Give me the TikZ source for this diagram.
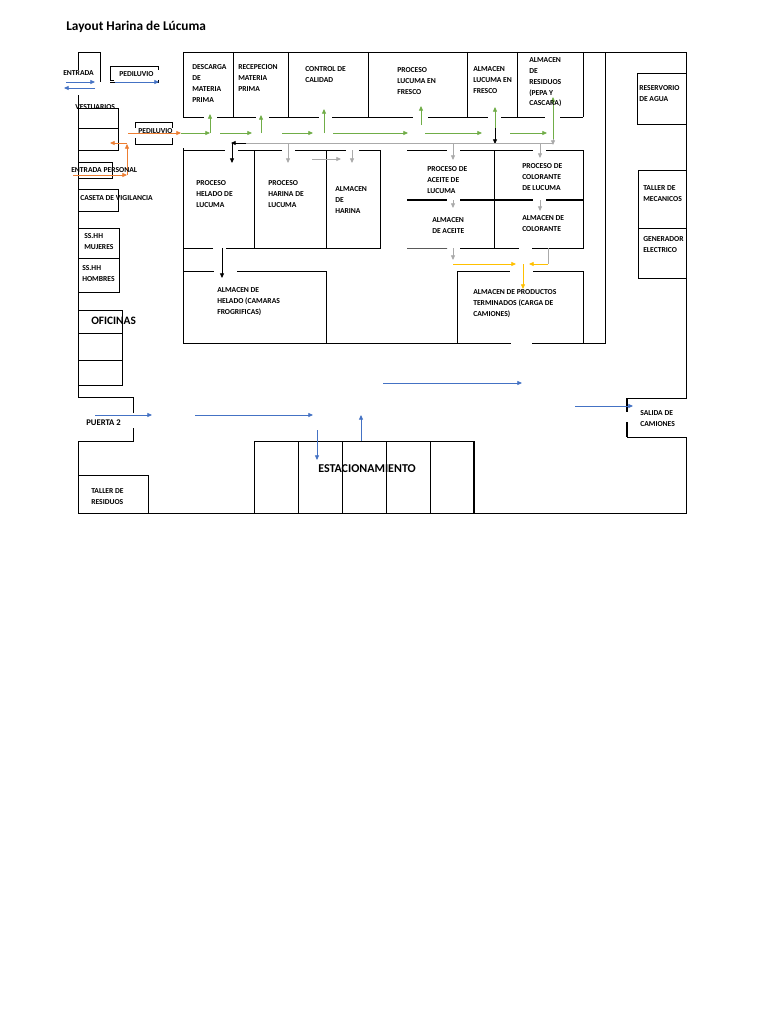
\documentclass[tikz,border=0pt]{standalone}
\usepackage{fontspec}
\setmainfont{Carlito}
\usetikzlibrary{arrows.meta}
\definecolor{gA}{RGB}{112,173,71}
\definecolor{bA}{RGB}{68,114,196}
\definecolor{oA}{RGB}{237,125,49}
\definecolor{grA}{RGB}{170,170,170}
\definecolor{yA}{RGB}{255,192,0}
\begin{document}
\begin{tikzpicture}[x=0.75pt,y=-0.75pt,
  wall/.style={line width=0.65pt,black},
  lbl/.style={anchor=north west,align=left,inner sep=0pt,font=\fontsize{5.7}{8.2}\selectfont\bfseries},
  fl/.style={line width=0.6pt,-{Triangle[length=3.5pt,width=3pt]}},
  green/.style={fl,gA}, blue/.style={fl,bA}, orng/.style={fl,oA}, gry/.style={fl,grA}, yel/.style={fl,yA}, blk/.style={fl,black}]
\fill[white] (0,0) rectangle (768,1024);
\useasboundingbox (0,0) rectangle (768,1024);
\node[anchor=north west,inner sep=0pt,font=\fontsize{10}{12}\selectfont\bfseries] (title) at (66,21) {Layout Harina de Lúcuma};
% outer walls
\draw[wall] (183,52) -- (686,52) -- (686,398) -- (627,398);
\draw[line width=1.3pt] (627,398)--(627,412) (627,422)--(627,437);
\draw[wall] (627,437) -- (686,437) -- (686,513) -- (78,513) -- (78,441) -- (133,441) -- (133,428);
\draw[wall] (133,413) -- (133,397) -- (78,397) -- (78,95);
\draw[wall] (78,70) -- (78,52) -- (100,52) -- (100,82);
% top pediluvio
\draw[wall] (114,80)--(110,80)--(110,66)--(158,66)--(158,70) (158,80)--(158,82)--(110,82);
% left column
\draw[wall] (78,108) rectangle (118,128);
\draw[wall] (78,128) rectangle (118,150);
\draw[wall] (78,162) rectangle (112,178);
\draw[wall] (78,189) rectangle (118,211);
\draw[wall] (78,228) rectangle (119,258);
\draw[wall] (78,258) rectangle (119,292);
\draw[wall] (78,310) rectangle (122,333);
\draw[wall] (78,333) rectangle (122,360);
\draw[wall] (78,360) rectangle (122,385);
% second pediluvio
\draw[wall] (135,128)--(135,122)--(172,122)--(172,128) (135,138)--(135,144)--(172,144)--(172,138);
% main building
\draw[wall] (183,52) -- (183,117) (183,148) -- (183,343) -- (511,343) (532,343) -- (605,343) -- (605,52);
\draw[wall] (233,52)--(233,117) (288,52)--(288,117) (368,52)--(368,117) (467,52)--(467,117) (517,52)--(517,117) (583,52)--(583,117);
\draw[wall] (183,117)--(204,117) (217,117)--(256,117) (269,117)--(319,117) (332,117)--(413,117) (428,117)--(488,117) (501,117)--(545,117) (560,117)--(583,117);
% second row left
\draw[wall] (183,150)--(225,150) (238,150)--(282,150) (295,150)--(346,150) (359,150)--(380,150)--(380,248)--(226,248) (213,248)--(183,248);
\draw[wall] (254,150)--(254,248) (326,150)--(326,248);
% helado storage
\draw[wall] (183,271)--(214,271) (237,271)--(326,271)--(326,343);
% right group
\draw[wall] (407,150)--(447,150) (460,150)--(533,150) (546,150)--(583,150)--(583,248)--(532,248) (519,248)--(460,248) (447,248)--(407,248)--cycle;
\draw[wall] (494,150)--(494,248);
\draw[line width=1.3pt] (407,200)--(447,200) (460,200)--(533,200) (546,200)--(583,200);
% productos terminados
\draw[wall] (457,343)--(457,271)--(510,271) (533,271)--(583,271)--(583,343);
% right side rooms
\draw[wall] (637,73) rectangle (686,124);
\draw[wall] (638,170) rectangle (686,228);
\draw[wall] (638,228) rectangle (686,278);
% estacionamiento
\draw[wall] (254,513)--(254,441)--(474,441);
\draw[line width=1.2pt] (474,441)--(474,513);
\foreach \x in {298,342,386,430} \draw[wall] (\x,441)--(\x,513);
% taller de residuos
\draw[wall] (78,475)--(148,475)--(148,513);
% ---- arrows
\draw[blue] (66,82)--(95,82);
\draw[blue] (95,88)--(64,88);
\draw[blue] (115,82)--(159,82);
\draw[blue] (95,415)--(152,415);
\draw[blue] (195,415)--(313,415);
\draw[blue] (317,430)--(317,460);
\draw[blue] (361,441)--(361,415);
\draw[blue] (383,383)--(522,383);
\draw[blue] (575,406)--(633,406);
% orange
\draw[orng] (73,175)--(127,175);
\draw[orng] (127,175)--(127,144);
\draw[orng] (127,143)--(110,143);
\draw[orng] (128,133)--(181,133);
% green
\draw[green] (181,133)--(210,133);
\draw[green] (210,133)--(210,114);
\draw[green] (220,133)--(252,133);
\draw[green] (261,133)--(261,115);
\draw[green] (282,133)--(313,133);
\draw[green] (324,133)--(324,109);
\draw[green] (333,133)--(408,133);
\draw[green] (421,125)--(421,106);
\draw[green] (425,133)--(482,133);
\draw[green] (495,138)--(495,107);
\draw[green] (510,133)--(547,133);
\draw[green] (553,139)--(553,97);
% black
\draw[blk] (495,128)--(495,144);
\draw[grA,line width=0.6pt] (553,143)--(245,143);
\draw[blk] (246,143)--(231,143);
\draw[blk] (232,143)--(232,163);
\draw[blk] (222,248)--(222,278);
% gray
\draw[gry] (553,139)--(553,145);
\draw[gry] (288,143)--(288,163);
\draw[gry] (352,150)--(352,163);
\draw[gry] (312,159)--(341,159);
\draw[gry] (453,143)--(453,160);
\draw[gry] (540,143)--(540,158);
\draw[gry] (453,200)--(453,208);
\draw[gry] (540,200)--(540,211);
\draw[gry] (453,248)--(453,260);
\draw[grA,line width=0.6pt] (548,248)--(548,264);
% yellow
\draw[yel] (453,264)--(516,264);
\draw[yel] (548,264)--(529,264);
\draw[yel] (523,264)--(523,289);
% ---- labels
\node[lbl] (l1) at (63,70) {ENTRADA};
\node[lbl] (l2) at (119,71) {PEDILUVIO};
\node[lbl] (l3) at (75,104) {VESTUARIOS};
\node[lbl] (l4) at (138,128) {PEDILUVIO};
\node[lbl] (l5) at (71,167) {ENTRADA PERSONAL};
\node[lbl] (l6) at (80,195) {CASETA DE VIGILANCIA};
\node[lbl] (l7) at (84,233) {SS.HH\\MUJERES};
\node[lbl] (l8) at (82,265) {SS.HH\\HOMBRES};
\node[lbl,font=\fontsize{8.5}{10}\selectfont\bfseries] (l9) at (91,317) {OFICINAS};
\node[lbl] (l10) at (192,64) {DESCARGA\\DE\\MATERIA\\PRIMA};
\node[lbl] (l11) at (238,64) {RECEPECION\\MATERIA\\PRIMA};
\node[lbl] (l12) at (305,66) {CONTROL DE\\CALIDAD};
\node[lbl] (l13) at (397,67) {PROCESO\\LUCUMA EN\\FRESCO};
\node[lbl] (l14) at (473,66) {ALMACEN\\LUCUMA EN\\FRESCO};
\node[lbl] (l15) at (529,57) {ALMACEN\\DE\\RESIDUOS\\(PEPA Y\\CASCARA)};
\node[lbl] (l16) at (639,85) {RESERVORIO\\DE AGUA};
\node[lbl] (l17) at (196,180) {PROCESO\\HELADO DE\\LUCUMA};
\node[lbl] (l18) at (268,180) {PROCESO\\HARINA DE\\LUCUMA};
\node[lbl] (l19) at (335,186) {ALMACEN\\DE\\HARINA};
\node[lbl] (l20) at (427,166) {PROCESO DE\\ACEITE DE\\LUCUMA};
\node[lbl] (l21) at (522,163) {PROCESO DE\\COLORANTE\\DE LUCUMA};
\node[lbl] (l22) at (432,217) {ALMACEN\\DE ACEITE};
\node[lbl] (l23) at (522,215) {ALMACEN DE\\COLORANTE};
\node[lbl] (l24) at (643,185) {TALLER DE\\MECANICOS};
\node[lbl] (l25) at (643,236) {GENERADOR\\ELECTRICO};
\node[lbl] (l26) at (217,287) {ALMACEN DE\\HELADO (CAMARAS\\FROGRIFICAS)};
\node[lbl] (l27) at (473,289) {ALMACEN DE PRODUCTOS\\TERMINADOS (CARGA DE\\CAMIONES)};
\node[lbl,font=\fontsize{6.5}{8}\selectfont\bfseries] (l28) at (86,420) {PUERTA 2};
\node[lbl] (l29) at (640,410) {SALIDA DE\\CAMIONES};
\node[lbl,font=\fontsize{9}{11}\selectfont\bfseries] (l30) at (318,464) {ESTACIONAMIENTO};
\node[lbl] (l31) at (91,488) {TALLER DE\\RESIDUOS};
\end{tikzpicture}
\end{document}
